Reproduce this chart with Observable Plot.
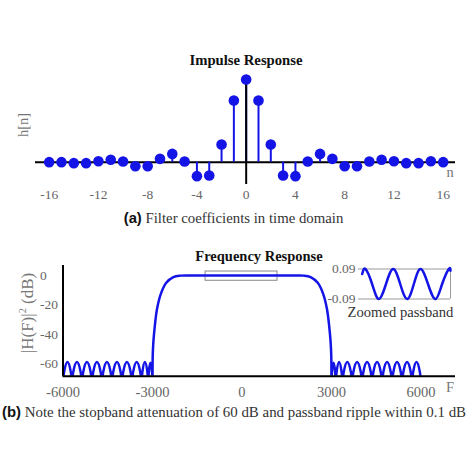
<!DOCTYPE html>
<html><head><meta charset="utf-8">
<script src="https://cdn.jsdelivr.net/npm/d3@7"></script>
<script src="https://cdn.jsdelivr.net/npm/@observablehq/plot@0.6"></script>
<style>
body{margin:0;background:#fff;}
#wrap{position:relative;width:474px;height:474px;overflow:hidden;background:#fff;font-family:"Liberation Serif",serif;}
#wrap svg{position:absolute;left:0;top:0;}
.t{position:absolute;white-space:nowrap;transform:translate(-50%,-50%);line-height:1;}
.r{transform:translate(-50%,-50%) rotate(-90deg);}
.b{font-weight:bold;color:#111;}
.g{color:#777;}
.cap{color:#333;}
.cap b{font-family:"Liberation Sans",Arial,sans-serif;color:#111;}
</style></head><body><div id="wrap"></div>
<script>
// ---- data ----
const taps = [-16,-15,-14,-13,-12,-11,-10,-9,-8,-7,-6,-5,-4,-3,-2,-1,0,1,2,3,4,5,6,7,8,9,10,11,12,13,14,15,16];
const hn = [0,0,-0.012,-0.012,0.012,0.03,0.008,-0.05,-0.05,0.04,0.10,0.008,-0.169,-0.161,0.214,0.746,1,0.746,0.214,-0.161,-0.169,0.008,0.10,0.04,-0.05,-0.05,0.008,0.03,0.012,-0.012,-0.012,0.012,0];
const nTicks = [-16,-12,-8,-4,0,4,8,12,16];

const respF = [
 -6000,-5964,-5850,-5736,-5700,-5660,-5533,-5405,-5365,-5325,-5198,-5070,-5030,-4990,-4863,-4735,
 -4695,-4655,-4528,-4400,-4360,-4320,-4193,-4065,-4025,-3985,-3858,-3730,-3690,-3652,-3530,-3408,
 -3370,-3340,-3255,-3170,-3140,-3125,-3070,-3015,-3000,
 -2993,-2970,-2930,-2850,-2720,-2540,-2300,-2060,
 -1800,-1400,-1000,-600,-200,200,600,1000,1400,1800,
 2060,2300,2540,2720,2850,2930,2970,2993,
 3000,3015,3070,3125,3140,3170,3255,3340,3370,3408,3530,3652,3690,3730,3858,3985,
 4025,4065,4193,4320,4360,4400,4528,4655,4695,4735,4863,4990,5030,5070,5198,5325,
 5365,5405,5533,5660,5700,5736,5850,5964,6000];
const respDb = [
 -85,-66,-59,-66,-85,-66,-59,-66,-85,-66,-59,-66,-85,-66,-59,-66,
 -85,-66,-59,-66,-85,-66,-59,-66,-85,-66,-59,-66,-85,-66,-59,-66,
 -85,-66,-59,-66,-85,-66,-59.5,-66,-85,
 -55,-45,-36,-23,-12.5,-5,-1.1,-0.1,
 0.05,-0.05,0.05,-0.05,0.05,-0.05,0.05,-0.05,0.05,-0.05,
 -0.1,-1.1,-5,-12.5,-23,-36,-45,-55,
 -85,-66,-59.5,-66,-85,-66,-59,-66,-85,-66,-59,-66,-85,-66,-59,-66,
 -85,-66,-59,-66,-85,-66,-59,-66,-85,-66,-59,-66,-85,-66,-59,-66,
 -85,-66,-59,-66,-85,-66,-59,-66,-85];
const fTicks = [-6000,-3000,0,3000,6000];
const dbTicks = [0,-20,-40,-60];
const boxF = [-1220, 1190];
const boxDb = [-3.6, 2.7];

const zoomF = [-1200,-1110,-930,-749,-553,-357,-167,23,204,385,588,792,973,1154,1200];
const zoomDb = [0.06,0.09,0,-0.09,0,0.09,0,-0.09,0,0.09,0,-0.09,0,0.09,0.08];
const zoomTicks = [0.09,-0.09];

// ---- drawing ----
const W = 474, H = 474;
const blue = "#1414e6";
const tickGray = "#666";
const font = {background:"transparent", fontFamily:"'Liberation Serif', serif", overflow:"visible"};
const wrap = document.getElementById("wrap");

const p1 = Plot.plot({
  width: W, height: H,
  marginLeft: 35, marginRight: 19, marginTop: 75, marginBottom: H - 184,
  x: {domain: [-17.11, 17.0]},
  y: {domain: [-0.270, 1.048], axis: null},
  style: font,
  marks: [
    Plot.ruleY([0], {stroke: "#000", strokeWidth: 2}),
    Plot.ruleX(taps, {x: d => d, y1: 0, y2: (d, i) => hn[i], stroke: blue, strokeWidth: 2}),
    Plot.ruleX([0], {stroke: "#000", strokeWidth: 2}),
    Plot.dot(taps, {x: d => d, y: (d, i) => hn[i], r: 5.3, fill: blue, stroke: "none"}),
    Plot.axisX(nTicks, {tickSize: 0, tickPadding: 5, fontSize: 13.5, fill: tickGray, tickFormat: d => String(d), label: null})
  ]
});
wrap.appendChild(p1);

const passBox = [{f1: boxF[0], f2: boxF[1], d1: boxDb[0], d2: boxDb[1]}];
const p2 = Plot.plot({
  width: W, height: H,
  marginLeft: 62.5, marginRight: 19, marginTop: 265, marginBottom: H - 375.7,
  x: {domain: [-6000, 7157]},
  y: {domain: [-68.6, 6.8], axis: null},
  style: font,
  marks: [
    Plot.rect(passBox, {x1: "f1", x2: "f2", y1: "d1", y2: "d2", fill: "none", stroke: "#888", strokeWidth: 1}),
    Plot.line(respF, {x: d => d, y: (d, i) => respDb[i], stroke: blue, strokeWidth: 2.5, curve: "catmull-rom", clip: true}),
    Plot.ruleY([-68.6], {stroke: "#000", strokeWidth: 2}),
    Plot.ruleX([-6000], {stroke: "#000", strokeWidth: 2}),
    Plot.axisX(fTicks, {tickSize: 0, tickPadding: 11, fontSize: 14.5, fill: tickGray, tickFormat: d => String(d), label: null}),
    Plot.text(dbTicks, {y: d => d, text: d => String(d), frameAnchor: "left", dx: -23, textAnchor: "start", fontSize: 13.5, fill: tickGray})
  ]
});
wrap.appendChild(p2);

const p3 = Plot.plot({
  width: W, height: H,
  marginLeft: 358, marginRight: 24, marginTop: 268.5, marginBottom: H - 298.5,
  x: {domain: [-1300, 1200], axis: null},
  y: {domain: [-0.09, 0.09], axis: null},
  style: font,
  marks: [
    Plot.ruleY(zoomTicks, {stroke: "#999", strokeWidth: 1}),
    Plot.ruleX([1200], {stroke: "#999", strokeWidth: 1}),
    Plot.line(zoomF, {x: d => d, y: (d, i) => zoomDb[i], stroke: blue, strokeWidth: 2.5, curve: "natural"}),
    Plot.text(zoomTicks, {y: d => d, text: d => String(d), frameAnchor: "left", dx: -3, textAnchor: "end", fontSize: 13.5, fill: tickGray})
  ]
});
wrap.appendChild(p3);

// ---- text ----
function label(html, x, y, cls, size) {
  const d = document.createElement("div");
  d.className = "t " + cls;
  d.style.left = x + "px"; d.style.top = y + "px"; d.style.fontSize = size + "px";
  d.innerHTML = html;
  wrap.appendChild(d);
}
label("Impulse Response", 246, 60, "b", 14.7);
label("h[n]", 23, 125, "g r", 14.5);
label("n", 450, 172, "g", 14.5);
label("<b>(a)</b> Filter coefficients in time domain", 233.5, 218, "cap", 14.8);
label("Frequency Response", 259, 256, "b", 14.5);
label("|H(F)|<sup style='font-size:0.6em;vertical-align:0.6em'>2</sup> (dB)", 27, 313, "g r", 17);
label("F", 450, 387, "g", 14.5);
label("Zoomed passband", 400.5, 312, "cap", 14.6);
label("<b>(b)</b> Note the stopband attenuation of 60 dB and passband ripple within 0.1 dB", 234, 412, "cap", 14.9);
</script></body></html>
